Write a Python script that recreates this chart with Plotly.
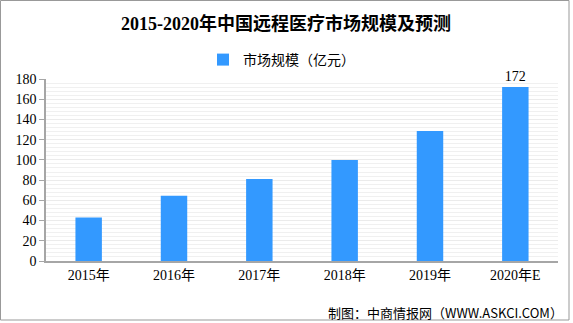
import plotly.graph_objects as go

categories = ["2015年", "2016年", "2017年", "2018年", "2019年", "2020年E"]
market_size = [43, 64.5, 81, 100, 128.6, 172]
label_flags = [False, False, False, False, False, True]
series_name = "市场规模（亿元）"
title_text = "2015-2020年中国远程医疗市场规模及预测"
source_text = "制图：中商情报网（WWW.ASKCI.COM）"

W, H = 573, 323
L, R, T, B = 46, 15, 79, 62
pw, ph = W - L - R, H - T - B

def px(x):
    return (x - L) / pw

def py(y):
    return (H - B - y) / ph

serif = "Liberation Serif, Noto Sans CJK SC, serif"
sans = "Noto Sans CJK SC, Noto Sans, sans-serif"

fig = go.Figure()
fig.add_trace(go.Bar(
    x=categories, y=market_size, name=series_name,
    marker=dict(color="#3399FF", line=dict(width=0)),
    text=[f"{v:g}" if f else "" for v, f in zip(market_size, label_flags)],
    textposition="outside", textfont=dict(family=serif, size=14, color="#000"),
    cliponaxis=False,
))

fig.update_layout(
    width=W, height=H,
    margin=dict(l=L, r=R, t=T, b=B),
    paper_bgcolor="white", plot_bgcolor="white",
    bargap=0.69,
    showlegend=True,
    legend=dict(orientation="h", x=px(203), xanchor="left", y=py(60), yanchor="middle",
                font=dict(family=sans, size=14, color="#000"), bgcolor="rgba(0,0,0,0)",
                itemwidth=30),
    title=dict(text=f"<b>{title_text}</b>", x=px(286), xanchor="center", xref="paper",
               y=1 - 24 / H, yanchor="middle",
               font=dict(family=serif, size=18, color="#000")),
    xaxis=dict(showline=True, linecolor="#a6a6a6", linewidth=1.5, ticks="",
               tickfont=dict(family=serif, size=14, color="#000"), showgrid=False),
    yaxis=dict(range=[0, 180], dtick=20, showline=True, linecolor="#a6a6a6", linewidth=1.5,
               ticks="outside", ticklen=5, tickcolor="#a6a6a6",
               tickfont=dict(family=serif, size=14, color="#000"),
               showgrid=True, gridcolor="#ebebeb", gridwidth=1, zeroline=False,
               minor=dict(dtick=4, showgrid=True, gridcolor="#f0f0f0", gridwidth=1)),
    annotations=[dict(text=source_text, x=px(565), y=py(312), xref="paper", yref="paper",
                      xanchor="right", yanchor="middle", showarrow=False,
                      font=dict(family=sans, size=13, color="#000"))],
    shapes=[dict(type="rect", xref="paper", yref="paper",
                 x0=px(0.5), x1=px(569), y0=py(320), y1=py(0.5),
                 line=dict(color="#999999", width=1), fillcolor="rgba(0,0,0,0)")],
)

fig.write_html("out.html")
